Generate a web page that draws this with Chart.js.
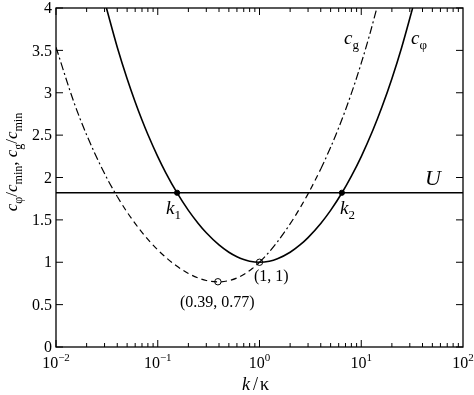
<!DOCTYPE html>
<html>
<head>
<meta charset="utf-8">
<script src="https://cdn.jsdelivr.net/npm/chart.js@4"></script>
<style>
  html, body { margin: 0; padding: 0; background: #fff; }
  #wrap { width: 474px; height: 395px; }
</style>
</head>
<body>
<div id="wrap"><canvas id="waves"></canvas></div>
<script>
// phase velocity c_phi / c_min
const kPhase = [0.0313, 0.04, 0.05, 0.06, 0.07, 0.08, 0.1, 0.12, 0.155, 0.2, 0.25, 0.3, 0.4, 0.5, 0.6, 0.7, 0.8, 1,
  1.25, 1.5, 2, 2.5, 3, 4, 5, 6.45, 8, 10, 13, 16, 20, 25, 32];
const cPhase = [4.0, 3.538, 3.166, 2.892, 2.679, 2.508, 2.247, 2.056, 1.818, 1.612, 1.458, 1.348, 1.204, 1.118, 1.065, 1.032, 1.012, 1.0,
  1.012, 1.041, 1.118, 1.204, 1.291, 1.458, 1.612, 1.817, 2.016, 2.247, 2.557, 2.834, 3.166, 3.538, 4.0];

// group velocity c_g / c_min
const kGroup = [0.01, 0.015, 0.02, 0.03, 0.04, 0.05, 0.07, 0.1, 0.15, 0.2, 0.25, 0.3, 0.39, 0.5, 0.6, 0.7, 0.85, 1,
  1.25, 1.5, 2, 2.5, 3, 4, 5, 6, 8, 10, 12, 14.2];
const cGroup = [3.537, 2.888, 2.503, 2.046, 1.775, 1.591, 1.353, 1.146, 0.964, 0.868, 0.815, 0.785, 0.768, 0.783, 0.814, 0.855, 0.926, 1.0,
  1.124, 1.241, 1.453, 1.640, 1.807, 2.101, 2.357, 2.586, 2.992, 3.349, 3.670, 3.995];

const uLevel = 1.82;
const kCross = [0.155, 6.45];
const openPts = [[1, 1], [0.39, 0.77]];

const xDecades = [0.01, 0.1, 1, 10, 100];
const xExp = ["−2", "−1", "0", "1", "2"];
const yTicks = [0, 0.5, 1, 1.5, 2, 2.5, 3, 3.5, 4];
const yLabels = ["0", "0.5", "1", "1.5", "2", "2.5", "3", "3.5", "4"];

const SERIF = "'Liberation Serif', 'Times New Roman', serif";

function pts(xs, ys) {
  return xs.map((x, i) => ({ x: x, y: ys[i] }));
}

const framePlugin = {
  id: "frame",
  afterDraw(chart) {
    const c = chart.ctx;
    const a = chart.chartArea;
    const xs = chart.scales.x, ys = chart.scales.y;
    c.save();
    c.strokeStyle = "#000";
    c.lineWidth = 1.3;
    c.strokeRect(a.left, a.top, a.right - a.left, a.bottom - a.top);

    // x ticks, bottom and top, major + minor
    c.lineWidth = 1;
    c.beginPath();
    for (let d = 0; d < 4; d++) {
      for (let m = 1; m <= 9; m++) {
        const v = xDecades[d] * m;
        const px = xs.getPixelForValue(v);
        const len = m === 1 ? 7 : 4;
        c.moveTo(px, a.bottom); c.lineTo(px, a.bottom - len);
        c.moveTo(px, a.top); c.lineTo(px, a.top + len);
      }
    }
    yTicks.forEach(v => {
      const py = ys.getPixelForValue(v);
      c.moveTo(a.left, py); c.lineTo(a.left + 7, py);
      c.moveTo(a.right, py); c.lineTo(a.right - 7, py);
    });
    c.stroke();

    // y tick labels
    c.fillStyle = "#000";
    c.font = "16px " + SERIF;
    c.textAlign = "right";
    c.textBaseline = "middle";
    yTicks.forEach((v, i) => {
      c.fillText(yLabels[i], a.left - 4, ys.getPixelForValue(v) + 1);
    });

    // x tick labels with exponent
    c.textBaseline = "alphabetic";
    xDecades.forEach((v, i) => {
      const px = xs.getPixelForValue(v);
      c.font = "16px " + SERIF;
      const w1 = c.measureText("10").width;
      c.font = "11px " + SERIF;
      const w2 = c.measureText(xExp[i]).width;
      const x0 = px - (w1 + w2) / 2;
      c.textAlign = "left";
      c.font = "16px " + SERIF;
      c.fillText("10", x0, 368);
      c.font = "11px " + SERIF;
      c.fillText(xExp[i], x0 + w1, 361);
    });

    // x title
    c.font = "italic 18px " + SERIF;
    c.textAlign = "left";
    c.fillText("k", 242, 390);
    c.font = "18px " + SERIF;
    c.fillText("/", 253, 390);
    c.fillText("κ", 260, 390);

    // y title, rotated
    c.translate(11, 162);
    c.rotate(-Math.PI / 2);
    const parts = [
      ["c", "italic 17px", 0], ["φ", "12px", 5], ["/", "17px", 0], ["c", "italic 17px", 0], ["min", "12px", 5],
      [", ", "17px", 0], ["c", "italic 17px", 0], ["g", "12px", 5], ["/", "17px", 0], ["c", "italic 17px", 0], ["min", "12px", 5]
    ];
    let total = 0;
    parts.forEach(p => { c.font = p[1] + " " + SERIF; total += c.measureText(p[0]).width; });
    let x = -total / 2;
    parts.forEach(p => {
      c.font = p[1] + " " + SERIF;
      c.fillText(p[0], x, 6 + p[2]);
      x += c.measureText(p[0]).width;
    });
    c.restore();

    // annotations
    c.save();
    c.fillStyle = "#000";
    c.textBaseline = "alphabetic";
    c.textAlign = "left";
    const note = (t, sub, x, y) => {
      c.font = "italic 19px " + SERIF;
      c.fillText(t, x, y);
      const w = c.measureText(t).width;
      c.font = "13px " + SERIF;
      c.fillText(sub, x + w, y + 5);
    };
    note("c", "g", 344, 44);
    note("c", "φ", 411, 44);
    note("k", "1", 166, 214);
    note("k", "2", 340, 214);
    c.font = "italic 22px " + SERIF;
    c.fillText("U", 425, 185);
    c.font = "16px " + SERIF;
    c.fillText("(1, 1)", 254, 281);
    c.fillText("(0.39, 0.77)", 180, 307);
    c.restore();
  }
};

const ctx = document.getElementById("waves");

new Chart(ctx, {
  type: "scatter",
  data: {
    datasets: [
      {
        label: "U",
        data: [{ x: 0.01, y: uLevel }, { x: 100, y: uLevel }],
        showLine: true,
        borderColor: "#000",
        borderWidth: 1.4,
        pointRadius: 0,
      },
      {
        label: "c_phi",
        data: pts(kPhase, cPhase),
        showLine: true,
        borderColor: "#000",
        borderWidth: 1.6,
        pointRadius: 0,
        cubicInterpolationMode: "monotone",
      },
      {
        label: "c_g",
        data: pts(kGroup, cGroup),
        showLine: true,
        borderColor: "#000",
        borderWidth: 1.2,
        pointRadius: 0,
        cubicInterpolationMode: "monotone",
        segment: {
          borderDash: (s) => {
            const k = s.p0.parsed.x;
            if (k < 0.04 || (k >= 1 && k < 1.6) || k >= 3.5) return [8, 3, 2, 3];
            return [6, 4];
          },
        },
      },
      {
        label: "k cross",
        data: kCross.map(k => ({ x: k, y: uLevel })),
        pointRadius: 2.6,
        pointBackgroundColor: "#000",
        pointBorderColor: "#000",
      },
      {
        label: "open",
        data: openPts.map(p => ({ x: p[0], y: p[1] })),
        pointRadius: 3.2,
        pointBackgroundColor: "#fff",
        pointBorderColor: "#000",
        pointBorderWidth: 1,
      },
    ],
  },
  options: {
    responsive: true,
    maintainAspectRatio: false,
    animation: false,
    layout: { padding: { top: 8, right: 11, left: 0, bottom: 0 } },
    scales: {
      x: {
        type: "logarithmic",
        min: 0.01,
        max: 100,
        grid: { display: false },
        border: { display: false },
        ticks: { display: false },
        afterFit: (s) => { s.height = 48; },
      },
      y: {
        min: 0,
        max: 4,
        grid: { display: false },
        border: { display: false },
        ticks: { display: false, stepSize: 0.5 },
        afterFit: (s) => { s.width = 56; },
      },
    },
    plugins: {
      legend: { display: false },
      tooltip: { enabled: false },
    },
  },
  plugins: [framePlugin],
});
</script>
</body>
</html>
